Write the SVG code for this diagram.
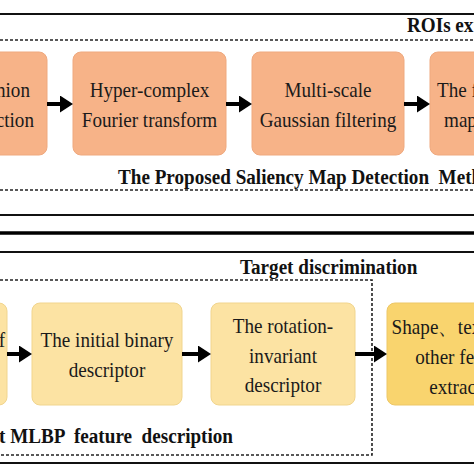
<svg xmlns="http://www.w3.org/2000/svg" width="474" height="474" viewBox="0 0 474 474">
<style>
.bx{font-family:"Liberation Serif","Times New Roman",serif;font-size:22px;fill:#1a1a1a}
.lb{font-family:"Liberation Serif","Times New Roman",serif;font-size:22px;font-weight:bold;fill:#111}
.or{fill:#F7B388;stroke:#EFA97F;stroke-width:1}
.ye{fill:#FCE3A3;stroke:#F1D58E;stroke-width:1}
.go{fill:#F9D46E;stroke:#EDC766;stroke-width:1}
.solid{fill:none;stroke:#111;stroke-width:2}
.dash{fill:none;stroke:#222;stroke-width:1.6;stroke-dasharray:3 2}
.ar{stroke:#000;stroke-width:4;fill:none}
</style>
<defs>
<marker id="ah" markerUnits="userSpaceOnUse" markerWidth="13" markerHeight="17" refX="3" refY="8.5" orient="auto">
<path d="M0,0 L13,8.5 L0,17 z" fill="#000"/>
</marker>
</defs>
<rect width="474" height="474" fill="#fff"/>
<g id="frames">
<rect class="solid" x="-20" y="14" width="514" height="201"/>
<rect class="dash" x="-20" y="40" width="514" height="150"/>
<line x1="-5" y1="233" x2="479" y2="233" stroke="#000" stroke-width="3.5"/>
<rect class="solid" x="-20" y="252" width="514" height="211"/>
<rect class="dash" x="-20" y="280" width="392" height="175"/>
</g>
<g id="labels">
<text class="lb" transform="translate(407,32) scale(0.87,1)">ROIs extraction</text>
<text class="lb" xml:space="preserve" transform="translate(118,184) scale(0.87,1)">The Proposed Saliency Map Detection  Method</text>
<text class="lb" transform="translate(240,274) scale(0.87,1)">Target discrimination</text>
<text class="lb" xml:space="preserve" text-anchor="end" transform="translate(233,443) scale(0.87,1)">Rotation-invariant MLBP  feature  description</text>
</g>
<g id="n1">
<rect class="or" x="-110" y="52" width="157" height="103" rx="8"/>
<text class="bx" text-anchor="end" transform="translate(30,97) scale(0.87,1)">Quaternion</text>
<text class="bx" text-anchor="end" transform="translate(34,127) scale(0.87,1)">construction</text>
</g>
<g id="n2">
<rect class="or" x="73" y="52" width="153" height="103" rx="8"/>
<text class="bx" text-anchor="middle" transform="translate(149.5,97) scale(0.87,1)">Hyper-complex</text>
<text class="bx" text-anchor="middle" transform="translate(149.5,127) scale(0.87,1)">Fourier transform</text>
</g>
<g id="n3">
<rect class="or" x="252" y="52" width="152" height="103" rx="8"/>
<text class="bx" text-anchor="middle" transform="translate(328,97) scale(0.87,1)">Multi-scale</text>
<text class="bx" text-anchor="middle" transform="translate(328,127) scale(0.87,1)">Gaussian filtering</text>
</g>
<g id="n4">
<rect class="or" x="430" y="52" width="152" height="103" rx="8"/>
<text class="bx" transform="translate(437,97) scale(0.87,1)">The final</text>
<text class="bx" transform="translate(444,127) scale(0.87,1)">map</text>
</g>
<g id="n5">
<rect class="ye" x="-150" y="303" width="157" height="102" rx="8"/>
<text class="bx" text-anchor="end" transform="translate(5,347) scale(0.87,1)">of</text>
</g>
<g id="n6">
<rect class="ye" x="32" y="303" width="150" height="102" rx="8"/>
<text class="bx" text-anchor="middle" transform="translate(107,347) scale(0.87,1)">The initial binary</text>
<text class="bx" text-anchor="middle" transform="translate(107,377) scale(0.87,1)">descriptor</text>
</g>
<g id="n7">
<rect class="ye" x="211" y="303" width="144" height="102" rx="8"/>
<text class="bx" text-anchor="middle" transform="translate(283,333) scale(0.87,1)">The rotation-</text>
<text class="bx" text-anchor="middle" transform="translate(283,362.5) scale(0.87,1)">invariant</text>
<text class="bx" text-anchor="middle" transform="translate(283,392) scale(0.87,1)">descriptor</text>
</g>
<g id="n8">
<rect class="go" x="387" y="303" width="161" height="102" rx="8"/>
<text class="bx" text-anchor="middle" transform="translate(467.5,334) scale(0.87,1)">Shape、texture and</text>
<text class="bx" text-anchor="middle" transform="translate(467.5,364) scale(0.87,1)">other features</text>
<text class="bx" text-anchor="middle" transform="translate(467.5,394) scale(0.87,1)">extraction</text>
</g>
<g id="connectors">
<line class="ar" x1="47" y1="104" x2="63" y2="104" marker-end="url(#ah)"/>
<line class="ar" x1="226" y1="104" x2="242" y2="104" marker-end="url(#ah)"/>
<line class="ar" x1="404" y1="104" x2="420" y2="104" marker-end="url(#ah)"/>
<line class="ar" x1="7" y1="354" x2="22" y2="354" marker-end="url(#ah)"/>
<line class="ar" x1="182" y1="354" x2="201" y2="354" marker-end="url(#ah)"/>
<line class="ar" x1="355" y1="354" x2="377" y2="354" marker-end="url(#ah)"/>
</g>
</svg>
